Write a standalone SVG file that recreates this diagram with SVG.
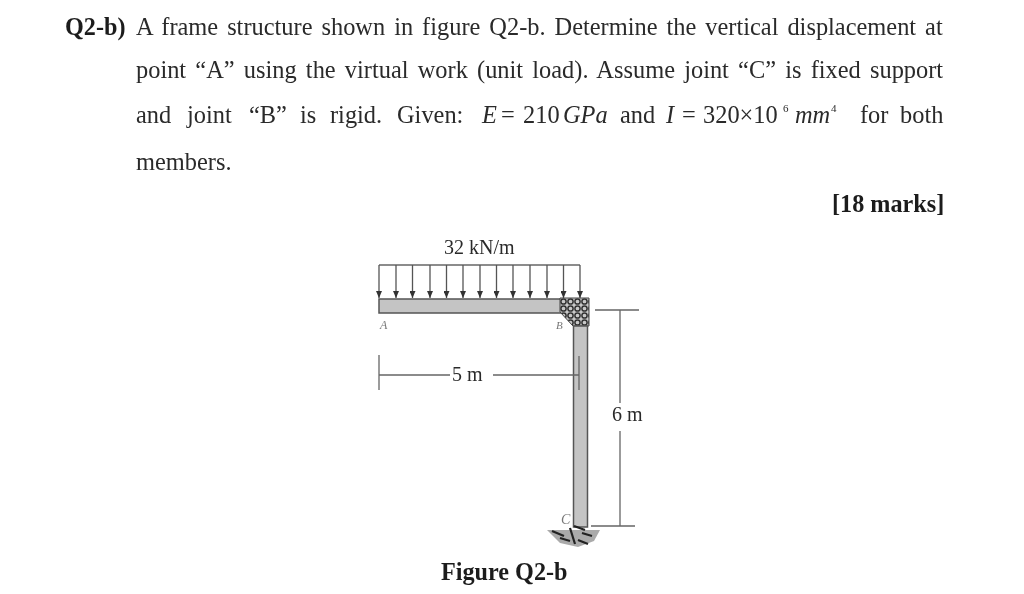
<svg xmlns="http://www.w3.org/2000/svg" width="1024" height="594" viewBox="0 0 1024 594">
<style>
text{font-family:"Liberation Serif","Times New Roman",serif;fill:#2a2a2a}
.t{font-size:24.400px}
.s{font-size:11px}
.b{font-size:24.200px;font-weight:bold;fill:#1e1e1e}
.i{font-style:italic}
.d{font-size:20px}
.l{font-size:12px;font-style:italic;fill:#777}
.dim{stroke:#666;stroke-width:1.3;fill:none}
.arr{stroke:#555;stroke-width:1.3;fill:none;marker-end:url(#ah)}
.mem{fill:#c4c4c4;stroke:#555;stroke-width:1.5}
</style>
<defs>
<marker id="ah" markerWidth="8" markerHeight="6" refX="7" refY="3" orient="auto" markerUnits="userSpaceOnUse" viewBox="0 0 8 6"><path d="M0 0L7 3L0 6Z" fill="#333"/></marker>
<pattern id="rb" width="7" height="7" patternUnits="userSpaceOnUse" x="560" y="298"><rect width="7" height="7" fill="#c8c8c8"/><circle cx="3.500" cy="3.500" r="2.600" fill="none" stroke="#333" stroke-width="1.500"/></pattern>
<filter id="soft" x="-5%" y="-5%" width="110%" height="110%"><feGaussianBlur stdDeviation="0.55"/></filter>
</defs>
<rect width="1024" height="594" fill="#fff"/>
<g id="statement" filter="url(#soft)">
<text class="b" x="65" y="35">Q2-b)</text>
<text class="t" x="136" y="35" word-spacing="2.900">A frame structure shown in figure Q2-b. Determine the vertical displacement at</text>
<text class="t" x="136" y="78" word-spacing="3.100">point “A” using the virtual work (unit load). Assume joint “C” is fixed support</text>
<text class="t" x="136" y="123">and</text>
<text class="t" x="187" y="123">joint</text>
<text class="t" x="249" y="123">“B”</text>
<text class="t" x="300" y="123">is</text>
<text class="t" x="330" y="123">rigid.</text>
<text class="t" x="397" y="123">Given:</text>
<text class="t i" x="482" y="123">E</text>
<text class="t" x="501" y="123">=</text>
<text class="t" x="523" y="123">210</text>
<text class="t i" x="563" y="123">GPa</text>
<text class="t" x="620" y="123">and</text>
<text class="t i" x="666" y="123">I</text>
<text class="t" x="682" y="123">=</text>
<text class="t" x="703" y="123">320×10</text>
<text class="s" x="783" y="112">6</text>
<text class="t i" x="795" y="123">mm</text>
<text class="s" x="831" y="112">4</text>
<text class="t" x="860" y="123">for</text>
<text class="t" x="900" y="123">both</text>
<text class="t" x="136" y="170">members.</text>
<text class="b" x="832" y="212">[18 marks]</text>
<text class="b" x="441" y="580">Figure Q2-b</text>
</g>
<g id="node-beam-AB" filter="url(#soft)">
<rect class="mem" x="379" y="299" width="183" height="14"/>
<text class="l" x="380" y="329">A</text>
</g>
<g id="node-joint-B" filter="url(#soft)">
<path d="M560 298H589V326H573L560 312Z" fill="url(#rb)" stroke="#444"/>
<text class="l" x="556" y="329" style="font-size:11px">B</text>
</g>
<g id="node-column-BC" filter="url(#soft)">
<rect class="mem" x="573.500" y="326" width="14" height="201"/>
<text class="l" x="561" y="524" style="font-size:14px">C</text>
</g>
<g id="node-support-C" filter="url(#soft)">
<path d="M547 530H600L594 541L578 547L560 543Z" fill="#aaa"/>
<path d="M552 531L564 536M570 528L575 544M582 533L592 536M560 538L570 541M578 540L588 544M574 526L585 530" stroke="#222" stroke-width="2.200" fill="none"/>
</g>
<g id="connectors" filter="url(#soft)">
<path class="dim" d="M379 265H580"/>
<path class="arr" d="M379 265V298"/><path class="arr" d="M396 265V298"/><path class="arr" d="M412.500 265V298"/><path class="arr" d="M430 265V298"/><path class="arr" d="M446.500 265V298"/><path class="arr" d="M463 265V298"/><path class="arr" d="M480 265V298"/><path class="arr" d="M496.500 265V298"/><path class="arr" d="M513 265V298"/><path class="arr" d="M530 265V298"/><path class="arr" d="M547 265V298"/><path class="arr" d="M563.500 265V298"/><path class="arr" d="M580 265V298"/>
<path class="dim" d="M379 355V390M379 375H450M493 375H579M579 356V390"/>
<path class="dim" d="M595 310H639M620 310V403M620 431V526M591 526H635"/>
</g>
<g id="labels" filter="url(#soft)">
<text class="d" x="444" y="254">32 kN/m</text>
<text class="d" x="452" y="381">5 m</text>
<text class="d" x="612" y="421">6 m</text>
</g>
</svg>
